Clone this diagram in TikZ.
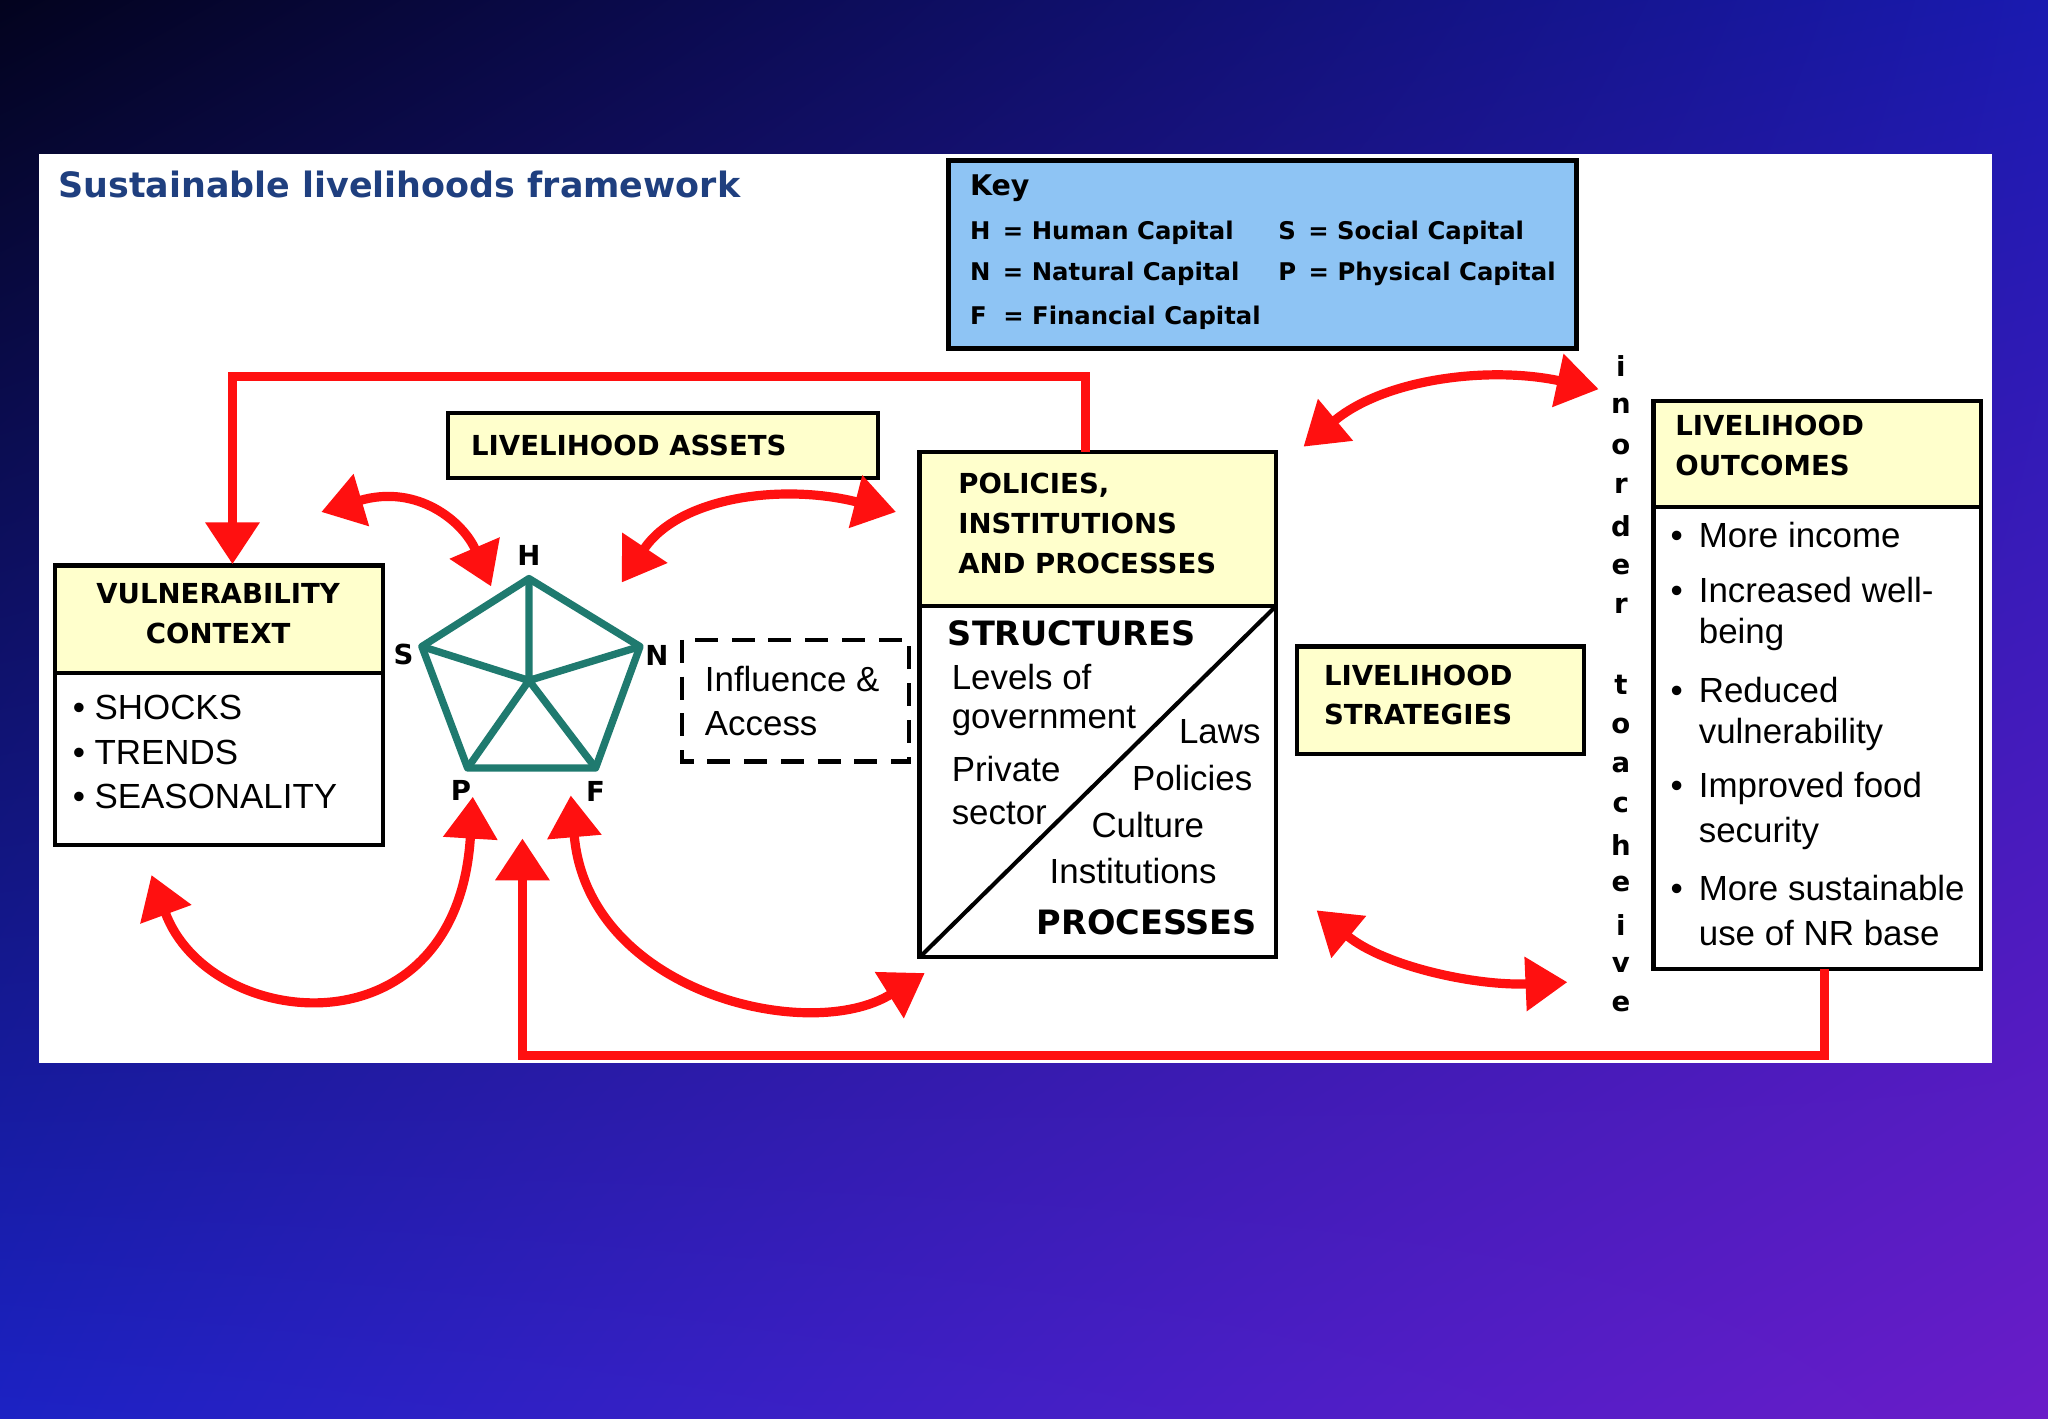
\documentclass[tikz,border=0pt]{standalone}
\usepackage{fontspec}
\setmainfont{Liberation Sans}
\newfontfamily\hdr{DejaVu Sans}
\usetikzlibrary{arrows.meta,shadings}
\definecolor{bgA}{HTML}{03031E}
\definecolor{bgB}{HTML}{1A1AB0}
\definecolor{bgC}{HTML}{1C22C4}
\definecolor{bgD}{HTML}{6A1CC8}
\definecolor{ttl}{HTML}{1F3F7F}
\definecolor{keyb}{HTML}{8EC4F4}
\definecolor{ylw}{HTML}{FFFFCC}
\definecolor{teal}{HTML}{1F7A6F}
\definecolor{rd}{HTML}{FF1010}
\begin{document}
\begin{tikzpicture}[x=0.01cm,y=-0.01cm,
  box/.style={draw=black,line width=0.9pt},
  yb/.style={box,fill=ylw},
  hd/.style={font=\hdr\bfseries\fontsize{6}{8.6}\selectfont,align=left,inner sep=0pt},
  tx/.style={font=\fontsize{7.6}{9}\selectfont,inner sep=0pt,anchor=west},
  kt/.style={font=\hdr\bfseries\fontsize{5.3}{7}\selectfont,inner sep=0pt,anchor=west},
  vl/.style={font=\hdr\bfseries\fontsize{6}{7}\selectfont,inner sep=0pt},
  ra/.style={draw=rd,line width=2pt,-{Triangle[length=0.32cm,width=0.4cm]}},
  rr/.style={draw=rd,line width=2pt,{Triangle[length=0.32cm,width=0.4cm]}-{Triangle[length=0.32cm,width=0.4cm]}},
  pe/.style={draw=teal,line width=1.6pt,line join=round}]
\useasboundingbox (0,0) rectangle (1568,1086);
\shade[upper left=bgA,upper right=bgB,lower left=bgC,lower right=bgD] (0,0) rectangle (1568,1086);
\fill[white] (30,118) rectangle (1525,814);
\node[anchor=west,inner sep=0pt,text=ttl,font=\hdr\bfseries\fontsize{7.6}{9}\selectfont] (title) at (44,141) {Sustainable livelihoods framework};
% key
\draw[box,fill=keyb,line width=1.1pt] (726,123) rectangle (1207,267);
\node[kt,font=\hdr\bfseries\fontsize{6.2}{7}\selectfont] (k0) at (742,144) {Key};
\node[kt] (k1) at (742,178) {H \,= Human Capital};
\node[kt] (k2) at (978,178) {S \,= Social Capital};
\node[kt] (k3) at (742,210) {N \,= Natural Capital};
\node[kt] (k4) at (978,210) {P \,= Physical Capital};
\node[kt] (k5) at (742,243) {F \,\,= Financial Capital};
% assets
\draw[yb] (343,316) rectangle (672,366);
\node[hd,anchor=west] (la) at (360,341) {LIVELIHOOD ASSETS};
% vulnerability
\draw[box,fill=white] (42,433) rectangle (293,647);
\draw[yb] (42,433) rectangle (293,515);
\node[hd,align=center] (vc) at (167,470) {VULNERABILITY\\CONTEXT};
\node[tx] (v1) at (55,542) {\textbullet\ SHOCKS};
\node[tx] (v2) at (55,576) {\textbullet\ TRENDS};
\node[tx] (v3) at (55,610) {\textbullet\ SEASONALITY};
% pentagon
\coordinate (H) at (405,443); \coordinate (N) at (490,495); \coordinate (F) at (456,588);
\coordinate (P) at (358,588); \coordinate (S) at (323,495); \coordinate (C) at (405,521);
\draw[pe] (H)--(N)--(F)--(P)--(S)--cycle;
\draw[pe] (H)--(C) (N)--(C) (S)--(C) (P)--(C) (F)--(C);
\node[vl] (lH) at (405,425) {H};
\node[vl] (lN) at (503,502) {N};
\node[vl] (lF) at (456,606) {F};
\node[vl] (lP) at (353,605) {P};
\node[vl] (lS) at (309,501) {S};
% influence
\draw[black,line width=1pt,dash pattern=on 5pt off 3pt] (522,490) rectangle (696,583);
\node[tx,align=left,font=\fontsize{7.6}{9.6}\selectfont] (ia) at (539,537) {Influence \&\\Access};
% policies
\draw[box,fill=white] (704,346) rectangle (977,733);
\draw[yb] (704,346) rectangle (977,464);
\draw[black,line width=0.9pt] (977,464) -- (704,733);
\node[hd,anchor=west,font=\hdr\bfseries\fontsize{6}{8.7}\selectfont] (pip) at (733,401) {POLICIES,\\INSTITUTIONS\\AND PROCESSES};
\node[tx,font=\hdr\bfseries\fontsize{7.3}{9}\selectfont] (st) at (725,485) {STRUCTURES};
\node[tx] (s1) at (728,518) {Levels of};
\node[tx] (s2) at (728,552) {government};
\node[tx] (s3) at (728,589) {Private};
\node[tx] (s4) at (728,623) {sector};
\node[tx] (p1) at (902,560) {Laws};
\node[tx] (p2) at (866,596) {Policies};
\node[tx] (p3) at (835,632) {Culture};
\node[tx] (p4) at (803,667) {Institutions};
\node[tx,font=\hdr\bfseries\fontsize{7.3}{9}\selectfont] (pr) at (793,706) {PROCESSES};
% strategies
\draw[yb] (993,495) rectangle (1213,577);
\node[hd,anchor=west] (ls) at (1013,532) {LIVELIHOOD\\STRATEGIES};
% outcomes
\draw[box,fill=white] (1266,307) rectangle (1517,742);
\draw[yb] (1266,307) rectangle (1517,388);
\node[hd,anchor=west] (lo) at (1282,341) {LIVELIHOOD\\OUTCOMES};
\foreach \t/\y/\b in {More income/410/1,Increased well-/452/1,being/486/0,Reduced/528/1,vulnerability/562/0,Improved food/604/1,security/638/0,More sustainable/680/1,use of NR base/714/0}{
  \node[tx] at (1300,\y) {\ifnum\b=1 \makebox[0pt][r]{\textbullet\hspace{3.5pt}}\fi\t};
}
% vertical text
\foreach \c/\y in {i/280,n/311,o/342,r/372,d/403,e/434,r/464,t/524,o/556,a/586,c/616,h/647,e/677,i/708,v/739,e/769}{
  \node[vl] at (1241,\y) {\c};
}
% red arrows
\coordinate (a1s) at (831,346); \coordinate (a1e) at (178,432);
\draw[ra,line join=miter] (a1s) -- (831,288) -- (178,288) -- (a1e);
\coordinate (a2s) at (246,392); \coordinate (a2e) at (376,449);
\draw[rr] (a2s) .. controls (320,370) and (355,400) .. (a2e);
\coordinate (a3s) at (476,446); \coordinate (a3e) at (686,392);
\draw[rr] (a3s) .. controls (520,380) and (600,370) .. (a3e);
\coordinate (a4s) at (998,342); \coordinate (a4e) at (1224,298);
\draw[rr] (a4s) .. controls (1060,290) and (1140,280) .. (a4e);
\coordinate (a5s) at (1008,697); \coordinate (a5e) at (1200,752);
\draw[rr] (a5s) .. controls (1060,740) and (1130,755) .. (a5e);
\coordinate (a6s) at (116,670); \coordinate (a6e) at (362,610);
\draw[rr] (a6s) .. controls (160,790) and (350,810) .. (a6e);
\coordinate (a7s) at (437,609); \coordinate (a7e) at (708,745);
\draw[rr] (a7s) .. controls (450,760) and (620,800) .. (a7e);
\coordinate (a8s) at (1397,742); \coordinate (a8e) at (400,642);
\draw[ra,line join=miter] (a8s) -- (1397,808) -- (400,808) -- (a8e);
\end{tikzpicture}
\end{document}
